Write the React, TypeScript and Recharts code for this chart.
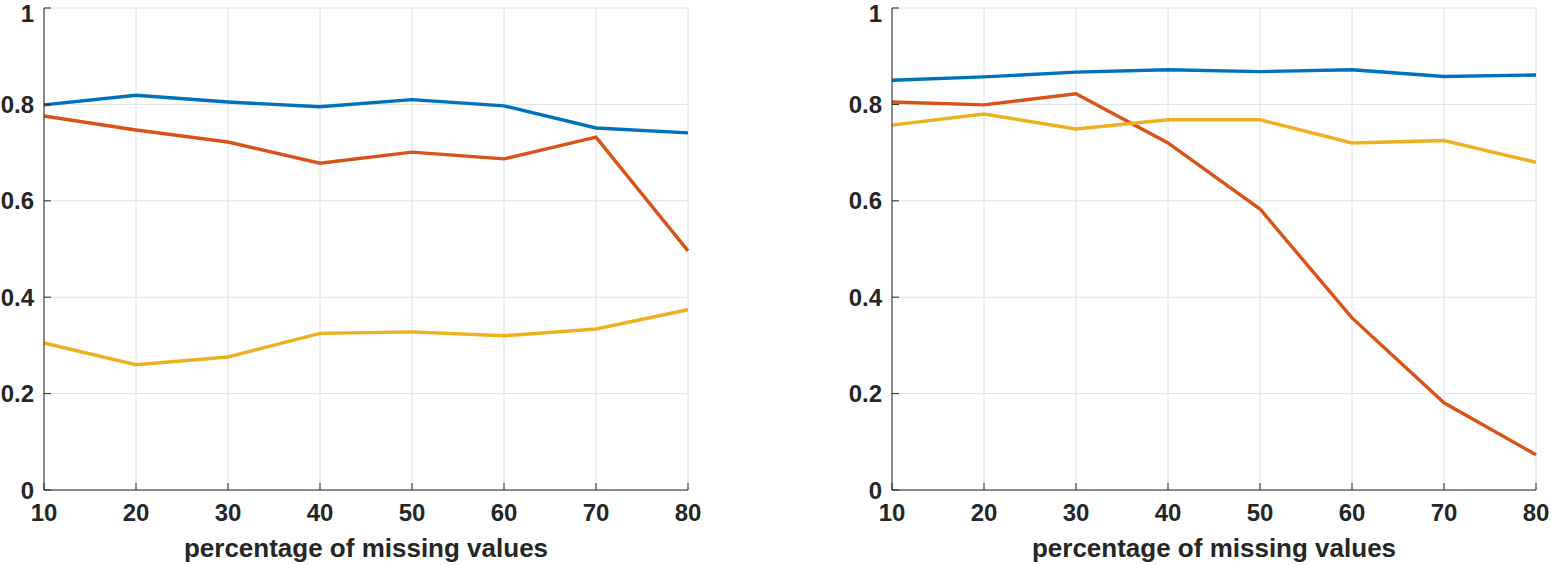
import { LineChart, Line, XAxis, YAxis, CartesianGrid } from 'recharts';

const missingPct = [10, 20, 30, 40, 50, 60, 70, 80];

// left panel
const leftBlue = [0.799, 0.819, 0.805, 0.795, 0.81, 0.797, 0.751, 0.741];
const leftRed = [0.776, 0.747, 0.722, 0.678, 0.701, 0.687, 0.732, 0.496];
const leftYellow = [0.305, 0.26, 0.276, 0.325, 0.328, 0.32, 0.334, 0.374];

// right panel
const rightBlue = [0.85, 0.857, 0.867, 0.872, 0.868, 0.872, 0.858, 0.861];
const rightRed = [0.805, 0.799, 0.822, 0.72, 0.583, 0.357, 0.181, 0.073];
const rightYellow = [0.757, 0.78, 0.749, 0.768, 0.768, 0.72, 0.725, 0.68];

const xTicks = [10, 20, 30, 40, 50, 60, 70, 80];
const yTicks = [0, 0.2, 0.4, 0.6, 0.8, 1];
const xTitle = 'percentage of missing values';

const AXIS = '#262626';
const FONT = '"Liberation Sans", Arial, Helvetica, sans-serif';
const tickStyle = { fill: AXIS, fontSize: 24, fontWeight: 'bold', fontFamily: FONT };

function Panel({ blue, red, yellow, left }: { blue: number[]; red: number[]; yellow: number[]; left: number }) {
  const data = missingPct.map((x, i) => ({ x, blue: blue[i], red: red[i], yellow: yellow[i] }));
  return (
    <div style={{ position: 'absolute', left, top: 0 }}>
      <LineChart width={703} height={565} data={data} margin={{ top: 8, right: 15, bottom: 0, left: 0 }}>
        <CartesianGrid stroke="#e0e0e0" strokeWidth={1} />
        <XAxis
          dataKey="x"
          type="number"
          domain={[10, 80]}
          ticks={xTicks}
          height={75}
          tickSize={-7}
          tickMargin={21}
          stroke={AXIS}
          tick={tickStyle}
          label={{ value: xTitle, position: 'insideBottom', offset: 8, fill: AXIS, fontSize: 26, fontWeight: 'bold', fontFamily: FONT }}
        />
        <XAxis
          xAxisId="top"
          orientation="top"
          dataKey="x"
          type="number"
          domain={[10, 80]}
          ticks={xTicks}
          height={0}
          tickSize={-7}
          stroke={AXIS}
          tickFormatter={() => ''}
        />
        <YAxis
          type="number"
          domain={[0, 1]}
          ticks={yTicks}
          width={44}
          tickSize={-7}
          tickMargin={17}
          stroke={AXIS}
          tick={tickStyle}
        />
        <YAxis
          yAxisId="right"
          orientation="right"
          type="number"
          domain={[0, 1]}
          ticks={yTicks}
          width={0}
          tickSize={-7}
          stroke={AXIS}
          tickFormatter={() => ''}
        />
        <Line type="linear" dataKey="blue" stroke="#0072BD" strokeWidth={3.4} dot={false} isAnimationActive={false} />
        <Line type="linear" dataKey="red" stroke="#D95319" strokeWidth={3.4} dot={false} isAnimationActive={false} />
        <Line type="linear" dataKey="yellow" stroke="#EDB120" strokeWidth={3.4} dot={false} isAnimationActive={false} />
      </LineChart>
    </div>
  );
}

export default function App() {
  return (
    <div style={{ position: 'absolute', left: 0, top: 0, width: 1551, height: 565, background: '#fff' }}>
      <Panel blue={leftBlue} red={leftRed} yellow={leftYellow} left={0} />
      <Panel blue={rightBlue} red={rightRed} yellow={rightYellow} left={848} />
    </div>
  );
}
